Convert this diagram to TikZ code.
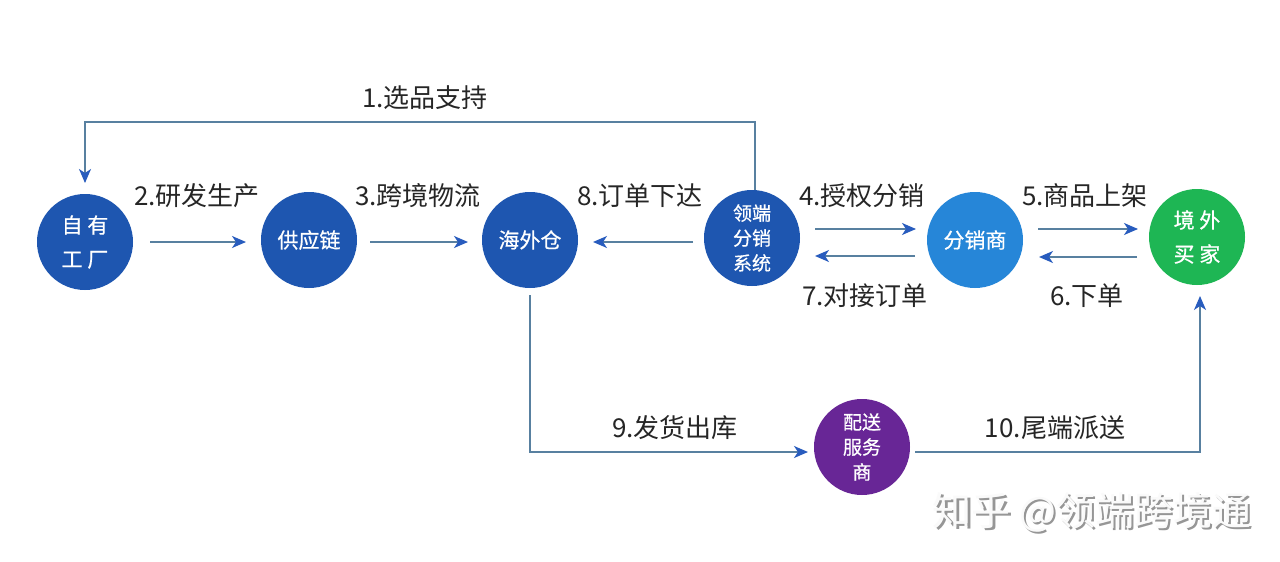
\documentclass[tikz,border=0pt]{standalone}
\usepackage{fontspec}
\setmainfont{Noto Sans CJK SC}
\newfontfamily\circfont[FakeBold=0.6]{Noto Sans CJK SC}
\usetikzlibrary{arrows.meta}
\definecolor{dblue}{RGB}{30,86,176}
\definecolor{lblue}{RGB}{38,134,216}
\definecolor{gbuy}{RGB}{30,182,84}
\definecolor{purp}{RGB}{104,38,150}
\definecolor{lineg}{RGB}{88,128,160}
\definecolor{tipb}{RGB}{40,92,190}
\definecolor{shad}{RGB}{150,150,150}
\definecolor{wmw}{RGB}{250,250,250}
\tikzset{
  circ/.style={circle,minimum size=96pt,inner sep=0pt,text=white,font=\circfont\fontsize{21}{34}\selectfont,align=center},
  circs/.style={font=\circfont\fontsize{19}{25}\selectfont},
  lab/.style={font=\fontsize{26}{30}\selectfont,text=black!85},
  flow/.style={draw=lineg,line width=1.6pt,-{Stealth[length=14pt,width=12pt,inset=4pt,color=tipb]}},
  wmark/.style={font=\fontsize{39}{44}\selectfont}
}
\begin{document}
\begin{tikzpicture}[x=1pt,y=-1pt]
\useasboundingbox (0,0) rectangle (1280,562);
\fill[white] (0,0) rectangle (1280,562);
% nodes
\node[circ,fill=dblue] (fac) at (85,242) {自 有\\工 厂};
\node[circ,fill=dblue] (sup) at (309,240) {供应链};
\node[circ,fill=dblue] (wh) at (530,240) {海外仓};
\node[circ,fill=dblue,circs] (sys) at (752,238) {领端\\分销\\系统};
\node[circ,fill=lblue] (dist) at (975,240) {分销商};
\node[circ,fill=gbuy] (buy) at (1197,237) {境 外\\买 家};
\node[circ,fill=purp,circs] (del) at (862,447) {配送\\服务\\商};
% coordinates
\coordinate (a1s) at (755,190);
\coordinate (a1e) at (85,183);
\coordinate (a2s) at (150,242);
\coordinate (a2e) at (246,242);
\coordinate (a3s) at (370,242);
\coordinate (a3e) at (468,242);
\coordinate (a8s) at (693,242);
\coordinate (a8e) at (593,242);
\coordinate (a4s) at (815,229);
\coordinate (a4e) at (916,229);
\coordinate (a7s) at (915,256);
\coordinate (a7e) at (815,256);
\coordinate (a5s) at (1038,229);
\coordinate (a5e) at (1138,229);
\coordinate (a6s) at (1137,257);
\coordinate (a6e) at (1039,257);
\coordinate (a9s) at (530,295);
\coordinate (a9e) at (808,452);
\coordinate (a10s) at (915,452);
\coordinate (a10e) at (1200,296);
% connectors
\draw[flow] (a1s) -- (755,122) -- (85,122) -- (a1e);
\draw[flow] (a2s) -- (a2e);
\draw[flow] (a3s) -- (a3e);
\draw[flow] (a8s) -- (a8e);
\draw[flow] (a4s) -- (a4e);
\draw[flow] (a7s) -- (a7e);
\draw[flow] (a5s) -- (a5e);
\draw[flow] (a6s) -- (a6e);
\draw[flow] (a9s) |- (a9e);
\draw[flow] (a10s) -| (a10e);
% labels
\node[lab] (l1) at (425,98) {1.选品支持};
\node[lab] (l2) at (197,196) {2.研发生产};
\node[lab] (l3) at (418,196) {3.跨境物流};
\node[lab] (l8) at (640,196) {8.订单下达};
\node[lab] (l4) at (862,196) {4.授权分销};
\node[lab] (l7) at (865,296) {7.对接订单};
\node[lab] (l5) at (1085,196) {5.商品上架};
\node[lab] (l6) at (1087,296) {6.下单};
\node[lab] (l9) at (675,428) {9.发货出库};
\node[lab] (l10) at (1055,428) {10.尾端派送};
% watermark
\node[wmark,text=shad] (wms) at (1094.5,514) {知乎 @领端跨境通};
\node[wmark,text=wmw] (wm) at (1092,512) {知乎 @领端跨境通};
\end{tikzpicture}
\end{document}
